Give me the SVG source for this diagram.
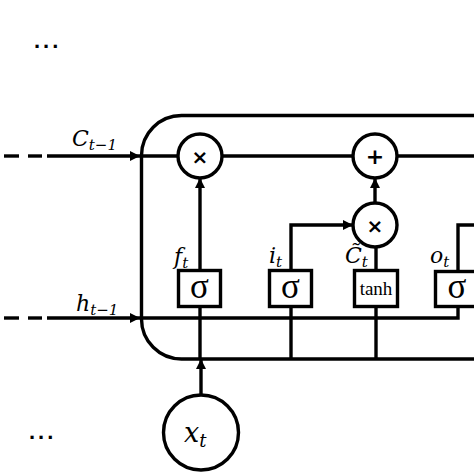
<svg xmlns="http://www.w3.org/2000/svg" width="474" height="474" viewBox="0 0 474 474">
<style>
.ln{stroke:#000;stroke-width:3.4;fill:none}
.nd{stroke:#000;stroke-width:3.4;fill:#fff}
.m{font-family:"DejaVu Serif","Liberation Serif",serif;font-style:italic;fill:#000}
.s{font-family:"Liberation Serif","DejaVu Serif",serif;fill:#000;text-anchor:middle}
.op{font-family:"DejaVu Sans","Liberation Sans",sans-serif;font-weight:bold;fill:#000;text-anchor:middle}
.dots{font-family:"Liberation Sans",sans-serif;font-weight:bold;font-size:22px;letter-spacing:3px;fill:#000}
</style>
<defs>
<marker id="ah" viewBox="0 0 10 10" refX="10" refY="5" markerWidth="10" markerHeight="10" markerUnits="userSpaceOnUse" orient="auto">
<path d="M0,0 L10,5 L0,10 Z" fill="#000"/>
</marker>
</defs>
<rect width="474" height="474" fill="#fff"/>
<g id="cell">
<rect class="ln" x="141.5" y="115.5" width="400" height="243.5" rx="40" ry="40"/>
</g>
<g id="connectors">
<line class="ln" x1="4" y1="156" x2="19" y2="156"/>
<line class="ln" x1="28" y1="156" x2="42" y2="156"/>
<line class="ln" x1="47" y1="156" x2="140" y2="156" marker-end="url(#ah)"/>
<line class="ln" x1="141" y1="156" x2="178" y2="156"/>
<line class="ln" x1="222" y1="156" x2="353" y2="156"/>
<line class="ln" x1="397" y1="156" x2="474" y2="156"/>
<line class="ln" x1="4" y1="318" x2="19" y2="318"/>
<line class="ln" x1="28" y1="318" x2="42" y2="318"/>
<line class="ln" x1="47" y1="318" x2="140" y2="318" marker-end="url(#ah)"/>
<polyline class="ln" points="141,318 458,318 458,307"/>
<line class="ln" x1="200" y1="359" x2="200" y2="307"/>
<line class="ln" x1="200" y1="270" x2="200" y2="178" marker-end="url(#ah)"/>
<line class="ln" x1="291" y1="359" x2="291" y2="307"/>
<polyline class="ln" points="291,270 291,225 353,225" marker-end="url(#ah)"/>
<line class="ln" x1="376" y1="359" x2="376" y2="307"/>
<line class="ln" x1="376" y1="270" x2="376" y2="247"/>
<line class="ln" x1="375" y1="203" x2="375" y2="178" marker-end="url(#ah)"/>
<polyline class="ln" points="458,271 458,225 474,225"/>
<line class="ln" x1="201" y1="395" x2="201" y2="359" marker-end="url(#ah)"/>
</g>
<g id="mul_f">
<circle class="nd" cx="200" cy="156" r="22"/>
<text class="op" x="200" y="163.5" font-size="20">×</text>
</g>
<g id="add_c">
<circle class="nd" cx="375" cy="156" r="22"/>
<text class="op" x="375" y="164" font-size="22">+</text>
</g>
<g id="mul_i">
<circle class="nd" cx="375" cy="225" r="22"/>
<text class="op" x="375" y="232.5" font-size="20">×</text>
</g>
<g id="sigma_f">
<rect class="nd" x="178.5" y="270.5" width="42" height="36"/>
<text class="s" x="199.5" y="298" font-size="35">σ</text>
<text class="m" x="174" y="264" font-size="22">f<tspan font-size="15" dy="4">t</tspan></text>
</g>
<g id="sigma_i">
<rect class="nd" x="269.5" y="270.5" width="42" height="36"/>
<text class="s" x="290.5" y="298" font-size="35">σ</text>
<text class="m" x="269" y="263" font-size="22">i<tspan font-size="15" dy="4">t</tspan></text>
</g>
<g id="tanh_c">
<rect class="nd" x="354.5" y="270.5" width="43" height="36"/>
<text class="s" x="376" y="295" font-size="19">tanh</text>
<text class="m" x="345" y="263" font-size="22">C̃<tspan font-size="15" dy="4">t</tspan></text>
</g>
<g id="sigma_o">
<rect class="nd" x="435.5" y="271.5" width="44" height="35"/>
<text class="s" x="457" y="298" font-size="35">σ</text>
<text class="m" x="430" y="263" font-size="22">o<tspan font-size="15" dy="4">t</tspan></text>
</g>
<g id="x_t">
<circle class="nd" cx="201" cy="432.5" r="37.5"/>
<text class="m" x="184" y="442" font-size="27">x<tspan font-size="18" dy="5">t</tspan></text>
</g>
<g id="labels">
<text class="m" x="72" y="146" font-size="22">C<tspan font-size="15" dy="4">t−1</tspan></text>
<text class="m" x="76" y="311" font-size="22">h<tspan font-size="15" dy="4">t−1</tspan></text>
<text class="dots" x="34" y="48">...</text>
<text class="dots" x="29" y="439">...</text>
</g>
</svg>
